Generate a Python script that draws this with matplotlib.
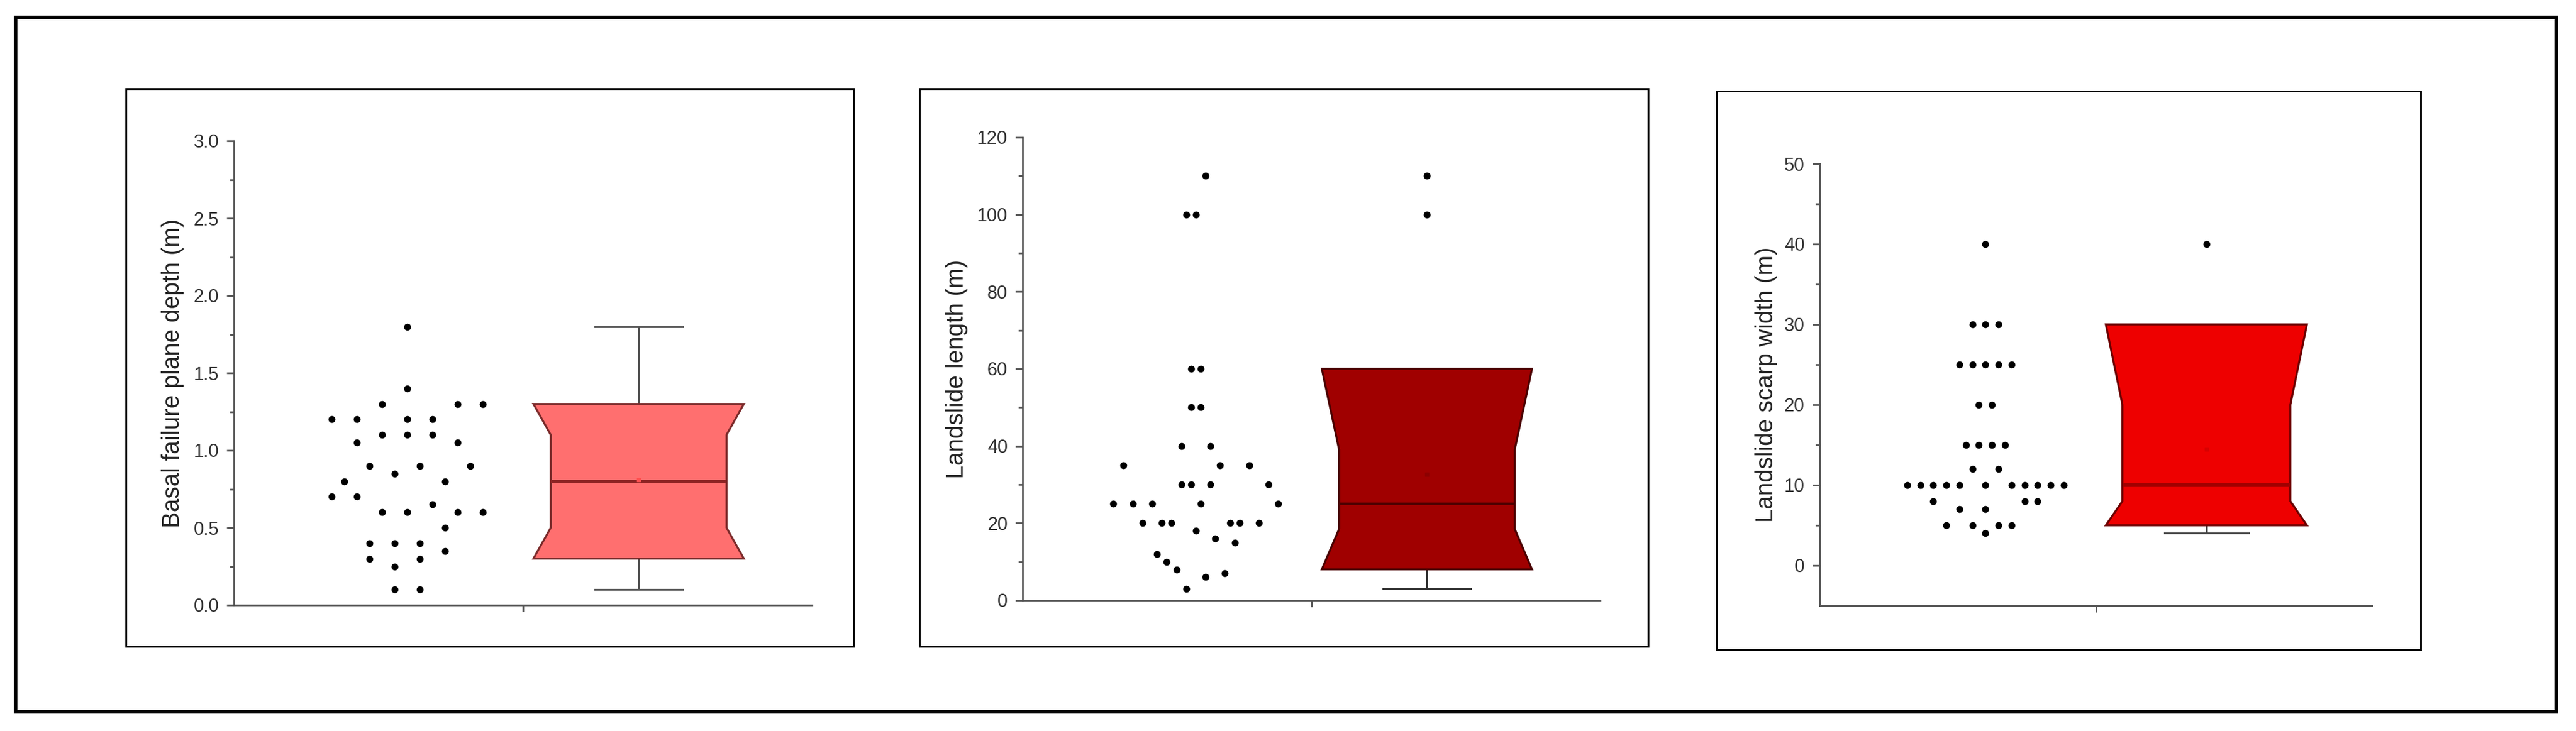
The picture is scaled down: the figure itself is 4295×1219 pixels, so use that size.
import matplotlib
matplotlib.use("Agg")
import matplotlib.pyplot as plt
from matplotlib.patches import Rectangle, Polygon
from matplotlib.ticker import MultipleLocator, FormatStrFormatter

plt.rcParams['font.family'] = ['Liberation Sans', 'DejaVu Sans']

# ---- data ----
y_titles = ["Basal failure plane depth (m)", "Landslide length (m)", "Landslide scarp width (m)"]

# panel 1: basal failure plane depth, with swarm column of each dot
depth_vals = [1.8, 1.4, 1.3, 1.3, 1.3, 1.2, 1.2, 1.2, 1.2, 1.1, 1.1, 1.1, 1.05, 1.05,
              0.9, 0.9, 0.9, 0.85, 0.8, 0.8, 0.7, 0.7, 0.65, 0.6, 0.6, 0.6, 0.6, 0.5,
              0.4, 0.4, 0.4, 0.35, 0.3, 0.3, 0.25, 0.1, 0.1]
depth_cols = [0, 0, -2, 4, 6, -6, -4, 0, 2, -2, 0, 2, -4, 4,
              -3, 1, 5, -1, -5, 3, -6, -4, 2, -2, 0, 4, 6, 3,
              -3, -1, 1, 3, -3, 1, -1, -1, 1]

# panel 2: landslide length
length_vals = [110, 100, 100, 60, 60, 50, 50, 40, 40, 35, 35, 35, 30, 30, 30, 30,
               25, 25, 25, 25, 25, 20, 20, 20, 20, 20, 20, 18, 16, 15, 12, 10, 8, 7, 6, 3]
length_cols = [2, -2, 0, -1, 1, -1, 1, -3, 3, -15, 5, 11, -3, -1, 3, 15,
               -17, -13, -9, 1, 17, -11, -7, -5, 7, 9, 13, 0, 4, 8, -8, -6, -4, 6, 2, -2]

# panel 3: landslide scarp width
width_vals = [40, 30, 30, 30, 25, 25, 25, 25, 25, 20, 20, 15, 15, 15, 15, 12, 12,
              10, 10, 10, 10, 10, 10, 10, 10, 10, 10, 10, 8, 8, 8, 7, 7, 5, 5, 5, 5, 4]
width_cols = [0, -2, 0, 2, -4, -2, 0, 2, 4, -1, 1, -3, -1, 1, 3, -2, 2,
              -12, -10, -8, -6, -4, 0, 4, 6, 8, 10, 12, -8, 6, 8, -4, 0, -6, -2, 2, 4, 0]

# box statistics as drawn
box_q1 = [0.3, 8, 5]
box_q3 = [1.3, 60, 30]
box_med = [0.8, 25, 10]
notch_lo = [0.5, 18.5, 8]
notch_hi = [1.1, 39, 20]
whisk_lo = [0.1, 3, 4]
whisk_hi = [1.8, 60, 30]
box_mean = [0.81, 32.6, 14.5]
box_outliers = [[], [100, 110], [40]]

y_limits = [(0, 3.0), (0, 120), (-5, 50)]
y_major = [0.5, 20, 10]
y_minor = [0.25, 10, 5]
y_fmt = ["%.1f", "%d", "%d"]

# ---- styling ----
fill_colors = ["#FF6F6F", "#A00000", "#EE0000"]
edge_colors = ["#7A2A2A", "#4A0000", "#6A0000"]
median_colors = ["#8E2424", "#4A0000", "#A00000"]
median_lw = [4.3, 2.6, 4.5]
whisker_colors = ["#555555", "#333333", "#444444"]
mean_colors = ["#FF5050", "#8C0000", "#D80000"]
col_step = [0.0545, 0.021, 0.0295]

W, H = 4295, 1219
fig = plt.figure(figsize=(W / 100, H / 100), dpi=100)

# axes rectangles in pixels: (left, top, right, bottom)
ax_px = [(390, 235, 1354, 1009), (1705, 229, 2668, 1001), (3034, 273, 3955, 1010)]
label_x = [-0.086, -0.0945, -0.0764]
frames = [(210, 148, 1423, 1078), (1533, 148, 2748, 1078), (2862, 152, 4036, 1083)]


def px_rect(l, t, r, b):
    return [l / W, 1 - b / H, (r - l) / W, (b - t) / H]


# outer frame
fig.add_artist(Rectangle((26 / W, 1 - 1187 / H), (4262 - 26) / W, (1187 - 29) / H,
                         transform=fig.transFigure, fill=False, ec="black", lw=4.3))
for fr in frames:
    x, y, w, h = px_rect(*fr)
    fig.add_artist(Rectangle((x, y), w, h, transform=fig.transFigure,
                             fill=False, ec="black", lw=2.2))

all_vals = [depth_vals, length_vals, width_vals]
all_cols = [depth_cols, length_cols, width_cols]

hw = 0.455      # box half width
inset = 0.075   # notch inset
cap = 0.19      # whisker cap half width

for i in range(3):
    ax = fig.add_axes(px_rect(*ax_px[i]))
    ax.set_xlim(-0.75, 1.75)
    ax.set_ylim(*y_limits[i])

    # swarm of points at x = 0
    xs = [c * col_step[i] for c in all_cols[i]]
    ax.scatter(xs, all_vals[i], s=70, color="black", marker="o", lw=0,
               zorder=3, clip_on=False)

    # notched box at x = 1
    c = 1.0
    q1, q3 = box_q1[i], box_q3[i]
    nlo, nhi = notch_lo[i], notch_hi[i]
    pts = [(c - hw, q3), (c + hw, q3), (c + hw - inset, nhi), (c + hw - inset, nlo),
           (c + hw, q1), (c - hw, q1), (c - hw + inset, nlo), (c - hw + inset, nhi)]
    ax.add_patch(Polygon(pts, closed=True, fc=fill_colors[i], ec=edge_colors[i],
                         lw=2.4, zorder=2))
    ax.plot([c - hw + inset, c + hw - inset], [box_med[i], box_med[i]],
            color=median_colors[i], lw=median_lw[i], zorder=3, solid_capstyle="butt")

    # whiskers
    wc = whisker_colors[i]
    ax.plot([c, c], [whisk_lo[i], q1], color=wc, lw=2.2, zorder=1)
    ax.plot([c - cap, c + cap], [whisk_lo[i], whisk_lo[i]], color=wc, lw=2.2, zorder=1)
    if whisk_hi[i] > q3:
        ax.plot([c, c], [q3, whisk_hi[i]], color=wc, lw=2.2, zorder=1)
        ax.plot([c - cap, c + cap], [whisk_hi[i], whisk_hi[i]], color=wc, lw=2.2, zorder=1)

    # faint mean marker and outliers
    ax.plot([c], [box_mean[i]], marker="s", ms=5, color=mean_colors[i], lw=0, zorder=4)
    if box_outliers[i]:
        ax.scatter([c] * len(box_outliers[i]), box_outliers[i], s=70, color="black",
                   lw=0, zorder=3, clip_on=False)

    # axes styling
    for side in ["top", "right"]:
        ax.spines[side].set_visible(False)
    for side in ["left", "bottom"]:
        ax.spines[side].set_color("#555555")
        ax.spines[side].set_linewidth(2.0)
    ax.patch.set_visible(False)

    ax.yaxis.set_major_locator(MultipleLocator(y_major[i]))
    ax.yaxis.set_minor_locator(MultipleLocator(y_minor[i]))
    ax.yaxis.set_major_formatter(FormatStrFormatter(y_fmt[i]))
    if i == 2:
        ax.set_yticks([0, 10, 20, 30, 40, 50])
        ax.set_yticks([5, 15, 25, 35, 45], minor=True)
    ax.tick_params(axis="y", which="major", length=9, width=2, color="#555555",
                   labelsize=22, labelcolor="#333333", pad=9)
    ax.tick_params(axis="y", which="minor", length=5, width=2, color="#555555")

    ax.set_xticks([0.5])
    ax.set_xticklabels([""])
    ax.tick_params(axis="x", which="major", length=8, width=2, color="#555555")

    ax.set_ylabel(y_titles[i], fontsize=29, color="#222222")
    ax.yaxis.set_label_coords(label_x[i], 0.5)

fig.savefig("out.png", dpi=100, facecolor="white")
